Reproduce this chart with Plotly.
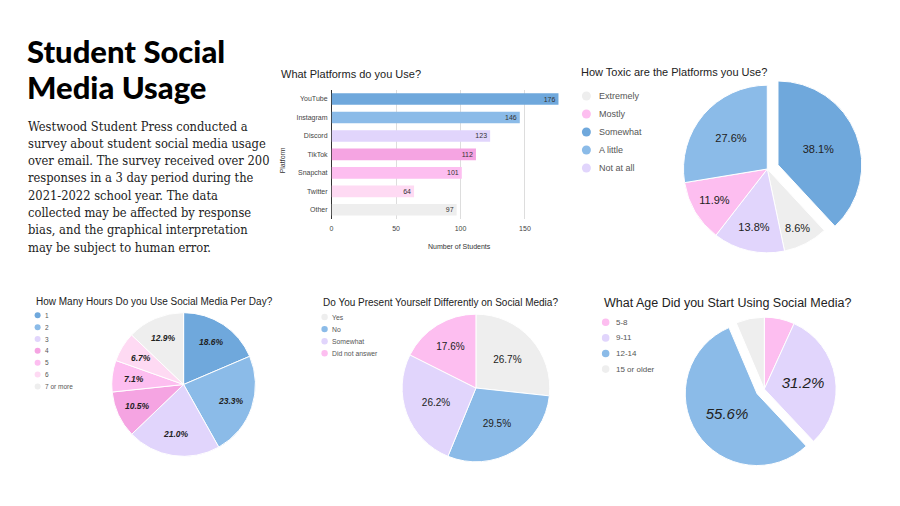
import math
import plotly.graph_objects as go

W, H = 900, 506

# ---------------- data ----------------
platforms = ["YouTube", "Instagram", "Discord", "TikTok", "Snapchat", "Twitter", "Other"]
platform_counts = [176, 146, 123, 112, 101, 64, 97]

toxic_labels = ["Extremely", "Mostly", "Somewhat", "A little", "Not at all"]
toxic_values = [8.6, 11.9, 38.1, 27.6, 13.8]
toxic_slice_order = ["Somewhat", "Extremely", "Not at all", "Mostly", "A little"]

hours_labels = ["1", "2", "3", "4", "5", "6", "7 or more"]
hours_values = [18.6, 23.3, 21.0, 10.5, 7.1, 6.7, 12.9]

present_labels = ["Yes", "No", "Somewhat", "Did not answer"]
present_values = [26.7, 29.5, 26.2, 17.6]

age_labels = ["5-8", "9-11", "12-14", "15 or older"]
age_values = [6.8, 31.2, 55.6, 6.4]

headline = ["Student Social", "Media Usage"]
intro_lines = [
    "Westwood Student Press conducted a",
    "survey about student social media usage",
    "over email. The survey received over 200",
    "responses in a 3 day period during the",
    "2021-2022 school year. The data",
    "collected may be affected by response",
    "bias, and the graphical interpretation",
    "may be subject to human error.",
]

# ---------------- styles ----------------
BLUE_D = "#6fa8dc"
BLUE_L = "#8bbbe8"
LAV = "#e1d5fc"
PINK_D = "#f5a4e2"
PINK = "#fdbef0"
PINK_L = "#fedaf3"
GRAY = "#eeeeee"

SANS = "Liberation Sans, Arial, sans-serif"
TXT = "#222222"

platform_colors = [BLUE_D, BLUE_L, LAV, PINK_D, PINK, PINK_L, GRAY]
toxic_colors = {"Extremely": GRAY, "Mostly": PINK, "Somewhat": BLUE_D, "A little": BLUE_L, "Not at all": LAV}
hours_colors = [BLUE_D, BLUE_L, LAV, PINK_D, PINK, PINK_L, GRAY]
present_colors = [GRAY, BLUE_L, LAV, PINK]
age_colors = [PINK, LAV, BLUE_L, GRAY]


def px(x):
    return x / W


def py(y):
    return 1 - y / H


def pie_domain(cx, cy, r, pull=0.0):
    s = r * (1 + pull)
    return dict(x=[px(cx - s), px(cx + s)], y=[py(cy + s), py(cy - s)])


fig = go.Figure()

# ---------------- bar chart ----------------
fig.add_trace(go.Bar(
    x=platform_counts, y=platforms, orientation="h",
    marker=dict(color=platform_colors, line=dict(width=0)),
    text=platform_counts, textposition="inside", insidetextanchor="end",
    constraintext="none",
    textfont=dict(family=SANS, size=7, color="#333333"),
    cliponaxis=False, hoverinfo="skip", showlegend=False,
))

# ---------------- pies ----------------
toxic_map = dict(zip(toxic_labels, toxic_values))
fig.add_trace(go.Pie(
    labels=toxic_slice_order, values=[toxic_map[l] for l in toxic_slice_order],
    sort=False, direction="clockwise", rotation=0,
    pull=[0.137 if l == "Somewhat" else 0 for l in toxic_slice_order],
    marker=dict(colors=[toxic_colors[l] for l in toxic_slice_order], line=dict(color="white", width=1)),
    texttemplate="%{value:.1f}%", textposition="inside", insidetextorientation="horizontal",
    textfont=dict(family=SANS, size=11, color=TXT),
    domain=pie_domain(767, 169, 84, 0.137), showlegend=False, hoverinfo="skip",
))

HOURS_C = (182, 384.5, 72)
fig.add_trace(go.Pie(
    labels=hours_labels, values=hours_values,
    sort=False, direction="clockwise", rotation=0,
    marker=dict(colors=hours_colors, line=dict(color="white", width=1)),
    textinfo="none",
    domain=pie_domain(*HOURS_C), showlegend=False, hoverinfo="skip",
))

fig.add_trace(go.Pie(
    labels=present_labels, values=present_values,
    sort=False, direction="clockwise", rotation=0,
    marker=dict(colors=present_colors, line=dict(color="white", width=1)),
    texttemplate="%{value:.1f}%", textposition="inside", insidetextorientation="horizontal",
    textfont=dict(family=SANS, size=10, color=TXT),
    domain=pie_domain(475, 388, 74), showlegend=False, hoverinfo="skip",
))

fig.add_trace(go.Pie(
    labels=age_labels, values=age_values,
    sort=False, direction="clockwise", rotation=0,
    pull=[0.12 if l == "12-14" else 0 for l in age_labels],
    marker=dict(colors=age_colors, line=dict(color="white", width=1)),
    texttemplate=["%{value:.1f}%" if v >= 10 else "" for v in age_values],
    textposition="inside", insidetextorientation="horizontal",
    textfont=dict(family=SANS, size=15, color=TXT, style="italic"),
    domain=pie_domain(764, 389, 72, 0.12), showlegend=False, hoverinfo="skip",
))

annotations = []
shapes = []


def text(x, y, s, size, color=TXT, family=SANS, xanchor="left", yanchor="middle", angle=0,
         weight=None, style=None):
    f = dict(family=family, size=size, color=color)
    if weight:
        f["weight"] = weight
    if style:
        f["style"] = style
    annotations.append(dict(x=px(x), y=py(y), xref="paper", yref="paper", text=s, showarrow=False,
                            xanchor=xanchor, yanchor=yanchor, textangle=angle, font=f))


def legend(labels, colors, x, y0, dy, r, tx, size, color="#555555"):
    for i, (lab, col) in enumerate(zip(labels, colors)):
        y = y0 + i * dy
        shapes.append(dict(type="circle", xref="paper", yref="paper", xsizemode="pixel", ysizemode="pixel",
                           xanchor=px(x), yanchor=py(y), x0=-r, x1=r, y0=-r, y1=r,
                           fillcolor=col, line=dict(width=0)))
        text(tx, y, lab, size, color=color)


# percentage labels of the hours pie, placed along each slice's mid-angle
cx, cy, r = HOURS_C
tot = sum(hours_values)
acc = 0.0
for v in hours_values:
    mid = (acc + v / 2) / tot * 2 * math.pi
    acc += v
    text(cx + 0.7 * r * math.sin(mid), cy - 0.7 * r * math.cos(mid), f"{v:.1f}%", 8.5,
         xanchor="center", weight="bold", style="italic")

# headline + intro
HEAD_FONT = "Lato, Roboto, sans-serif"
text(23, 51, headline[0], 31, color="#000000", family=HEAD_FONT, weight=900)
text(23, 87, headline[1], 31, color="#000000", family=HEAD_FONT, weight=900)
for i, line in enumerate(intro_lines):
    text(24, 126 + i * 17.3, line, 12.8, color="#222222", family="DejaVu Serif Condensed, DejaVu Serif, serif")

# chart titles
text(278, 74, "What Platforms do you Use?", 11)
text(578, 72.5, "How Toxic are the Platforms you Use?", 11)
text(32, 301, "How Many Hours Do you Use Social Media Per Day?", 10)
text(320, 302.5, "Do You Present Yourself Differently on Social Media?", 10)
text(601, 303, "What Age Did you Start Using Social Media?", 12.5)

# bar axis titles
text(459, 246, "Number of Students", 7, color="#333333", xanchor="center")
text(282, 160, "Platform", 7, color="#333333", xanchor="center", angle=-90)

# legends
legend(toxic_labels, [toxic_colors[l] for l in toxic_labels], 585.7, 96, 18, 4.5, 596, 9)
legend(hours_labels, hours_colors, 35.7, 315.3, 11.85, 3, 41.5, 6.5)
legend(present_labels, present_colors, 323.3, 317, 12.1, 3.2, 329, 6.8)
legend(age_labels, age_colors, 605, 322.3, 15.6, 3.8, 613.5, 8)

fig.update_layout(
    width=W, height=H, margin=dict(l=0, r=0, t=0, b=0),
    paper_bgcolor="white", plot_bgcolor="white",
    bargap=0.37,
    xaxis=dict(domain=[px(330.3), px(560.3)], range=[0, 178], tickvals=[0, 50, 100, 150],
               showgrid=True, gridcolor="#dddddd", gridwidth=1,
               zeroline=True, zerolinecolor="#333333", zerolinewidth=1,
               showline=False, ticks="", ticklabelstandoff=4,
               tickfont=dict(family=SANS, size=7, color="#444444"),
               fixedrange=True),
    yaxis=dict(domain=[py(219), py(89.8)], autorange="reversed", showgrid=False,
               showline=False, ticks="", ticklabelstandoff=3,
               tickfont=dict(family=SANS, size=7, color="#444444"),
               fixedrange=True),
    annotations=annotations, shapes=shapes,
    font=dict(family=SANS),
)

fig.write_html("out.html")
